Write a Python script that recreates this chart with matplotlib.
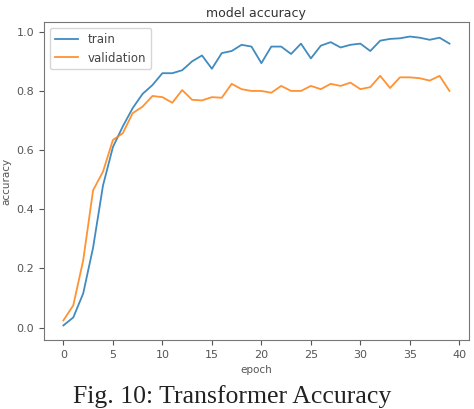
import matplotlib
matplotlib.use("Agg")
import matplotlib.pyplot as plt

# accuracy per epoch
epochs = list(range(40))
train_acc = [0.007, 0.034, 0.115, 0.27, 0.48, 0.61, 0.68, 0.742, 0.79, 0.82,
             0.86, 0.86, 0.87, 0.90, 0.92, 0.875, 0.928, 0.935, 0.956, 0.95,
             0.894, 0.95, 0.95, 0.925, 0.96, 0.91, 0.953, 0.965, 0.947, 0.956,
             0.96, 0.935, 0.97, 0.976, 0.978, 0.984, 0.98, 0.973, 0.98, 0.96]
val_acc = [0.024, 0.075, 0.227, 0.464, 0.527, 0.634, 0.657, 0.725, 0.747, 0.783,
           0.779, 0.76, 0.803, 0.77, 0.768, 0.779, 0.777, 0.824, 0.806, 0.80,
           0.80, 0.794, 0.817, 0.80, 0.80, 0.817, 0.806, 0.824, 0.817, 0.828,
           0.806, 0.813, 0.851, 0.81, 0.846, 0.846, 0.843, 0.835, 0.851, 0.80]
legend_labels = ["train", "validation"]

fig = plt.figure(figsize=(4.74, 4.09), dpi=100)
ax = fig.add_axes([0.093, 0.169, 0.896, 0.777])

ax.plot(epochs, train_acc, color="tab:blue", lw=1.3, alpha=0.85, label=legend_labels[0])
ax.plot(epochs, val_acc, color="tab:orange", lw=1.3, alpha=0.85, label=legend_labels[1])

ax.set_title("model accuracy", fontsize=9, color="#333333", pad=4)
ax.set_xlabel("epoch", fontsize=7.5, color="#555555", labelpad=4)
ax.set_ylabel("accuracy", fontsize=7.5, color="#555555", labelpad=4)
ax.tick_params(labelsize=8, labelcolor="#555555", color="#555555")
for s in ax.spines.values():
    s.set_color("#777777")
ax.legend(loc="upper left", fontsize=8.5, labelcolor="#444444")

# figure caption below the plot
fig.text(0.49, 0.003, "Fig. 10: Transformer Accuracy", ha="center", va="bottom",
         family="Liberation Serif", fontsize=18.5, color="#222222")

fig.savefig("out.png", dpi=100)
